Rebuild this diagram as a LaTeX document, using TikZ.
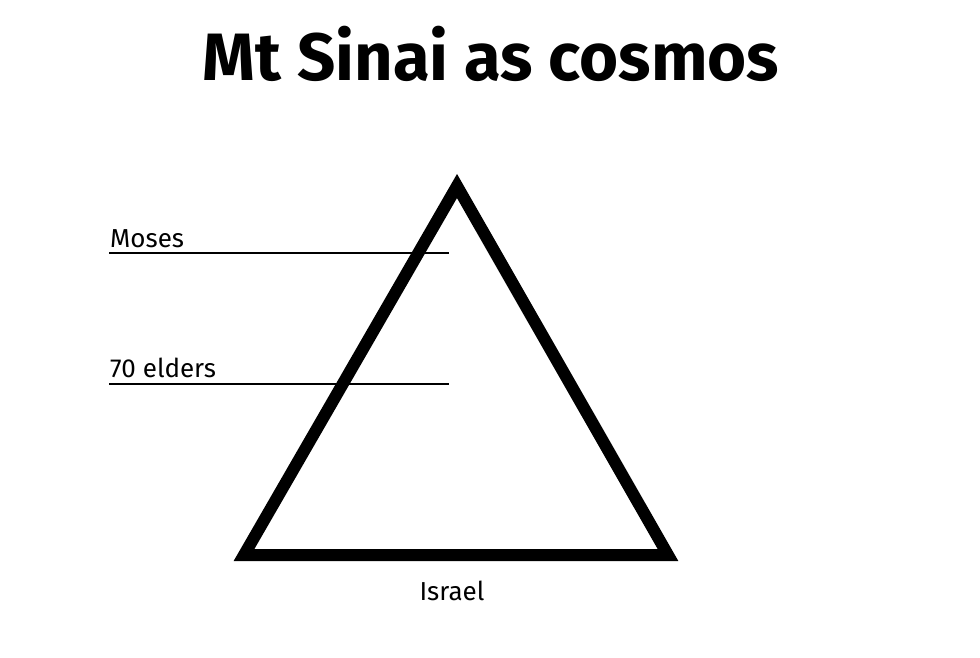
\documentclass[tikz,border=0pt]{standalone}
\usepackage{fontspec}
\setmainfont{Fira Sans}
\usetikzlibrary{positioning}

\tikzset{
  tag/.style={anchor=base west, inner sep=0pt, font=\fontsize{26}{30}\selectfont},
  level/.style={line width=2pt}
}

\begin{document}
\begin{tikzpicture}[x=1pt,y=-1pt]
  \useasboundingbox (0,0) rectangle (980,657);

  \node[anchor=base, inner sep=0pt, font=\bfseries\fontsize{67}{80}\selectfont] (title) at (491,80) {Mt Sinai as cosmos};

  \coordinate (top) at (457,186);
  \coordinate (bl) at (244,555);
  \coordinate (br) at (668,555);
  \draw[line width=12pt] (top) -- (bl) -- (br) -- cycle;

  \node[tag] (moses) at (110,247) {Moses};
  \node[tag] (elders) at (110,377) {70 elders};
  \node[anchor=base, inner sep=0pt, font=\fontsize{26}{30}\selectfont] (israel) at (452,600) {Israel};

  \coordinate (m1) at (109,253);
  \coordinate (m2) at (449,253);
  \coordinate (e1) at (109,384);
  \coordinate (e2) at (449,384);
  \draw[level] (m1) -- (m2);
  \draw[level] (e1) -- (e2);

\end{tikzpicture}
\end{document}
